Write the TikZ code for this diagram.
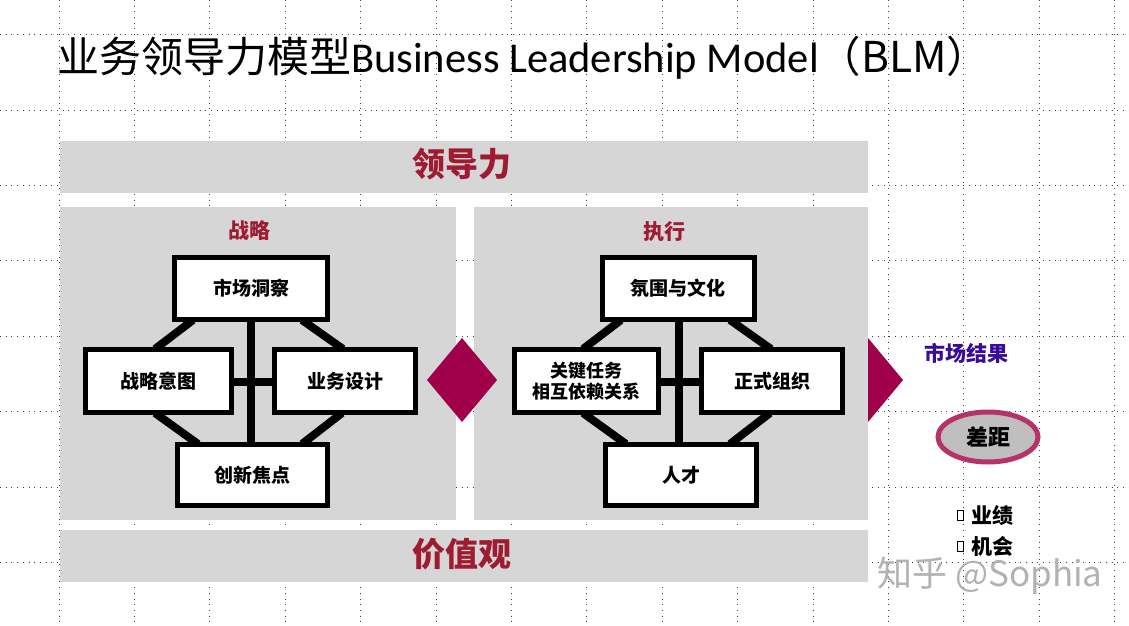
\documentclass[tikz,border=0pt]{standalone}
\usepackage{fontspec}
\usetikzlibrary{shapes.geometric}
\setmainfont{Carlito}
\newfontfamily\cjk{Noto Sans CJK SC}
\definecolor{panel}{HTML}{D6D6D6}
\definecolor{maroon}{HTML}{A0004A}
\definecolor{ttl}{HTML}{9E1B32}
\definecolor{purp}{HTML}{3A0A99}
\definecolor{ring}{HTML}{B8326A}
\tikzset{
  bx/.style={draw=black,line width=5pt,fill=white,inner sep=0pt,font=\cjk\bfseries\fontsize{19}{19}\selectfont},
  link/.style={line width=8pt,black},
  hdr/.style={font=\cjk\bfseries\fontsize{33}{33}\selectfont,text=ttl},
  sub/.style={font=\cjk\bfseries\fontsize{21}{21}\selectfont,text=ttl},
  grid/.style={black!75,line width=0.7pt,dash pattern=on 0.7pt off 5pt},
}
\begin{document}
\begin{tikzpicture}[x=1pt,y=-1pt]
\useasboundingbox (0,0) rectangle (1129,626);
\fill[white] (0,0) rectangle (1129,626);
% dotted grid
\foreach \i in {0,...,14} {\draw[grid] (59+75.4*\i,0) -- (59+75.4*\i,626);}
\foreach \j in {0,...,7} {\draw[grid] (0,34.5+75.4*\j) -- (1129,34.5+75.4*\j);}
% title
\node[anchor=west,inner sep=0pt] (title) at (57,58) {{\cjk\fontsize{42}{42}\selectfont 业务领导力模型}{\fontsize{42.5}{42}\selectfont Business Leadership Model{\cjk （BLM）}}};
% panels
\fill[panel] (60,141) rectangle (868,193);
\node[hdr] (lead) at (462,164) {领导力};
\fill[panel] (60,207) rectangle (456,520);
\fill[panel] (474,207) rectangle (868,520);
\fill[panel] (60,530) rectangle (868,582);
\node[hdr] (val) at (462,554) {价值观};
\node[sub] (zl) at (249,231) {战略};
\node[sub] (zx) at (664,232) {执行};
% left group links
\draw[link] (251,320) -- (251,444);
\draw[link] (232,382) -- (274,382);
\draw[link] (193,320) -- (155,349);
\draw[link] (302,320) -- (343,349);
\draw[link] (155,413) -- (198,444);
\draw[link] (342,413) -- (302,444);
% right group links
\draw[link] (679,320) -- (679,444);
\draw[link] (659,382) -- (701,382);
\draw[link] (621,320) -- (583,349);
\draw[link] (730,320) -- (771,349);
\draw[link] (583,413) -- (626,444);
\draw[link] (770,413) -- (730,444);
% left boxes
\node[bx,minimum width=153pt,minimum height=62pt] (a1) at (251,288) {市场洞察};
\node[bx,minimum width=146pt,minimum height=63pt] (a2) at (158,381) {战略意图};
\node[bx,minimum width=141pt,minimum height=63pt] (a3) at (345,381) {业务设计};
\node[bx,minimum width=150pt,minimum height=61pt] (a4) at (252,475) {创新焦点};
% right boxes
\node[bx,minimum width=152pt,minimum height=62pt] (b1) at (678,288) {氛围与文化};
\node[bx,minimum width=144pt,minimum height=63pt,align=center,font=\cjk\bfseries\fontsize{18}{21}\selectfont] (b2) at (586,381) {关键任务\\相互依赖关系};
\node[bx,minimum width=141pt,minimum height=63pt] (b3) at (772,381) {正式组织};
\node[bx,minimum width=151pt,minimum height=61pt] (b4) at (681,475) {人才};
% diamond and triangle
\fill[maroon] (427,380) -- (462,338) -- (497,380) -- (462,422) -- cycle;
\fill[maroon] (868,338) -- (903,380) -- (868,422) -- cycle;
% right side
\node[font=\cjk\bfseries\fontsize{21}{21}\selectfont,text=purp] (res) at (966,353) {市场结果};
\node[ellipse,draw=ring,line width=5pt,fill=black!25,minimum width=100pt,minimum height=50pt,inner sep=0pt,font=\cjk\bfseries\fontsize{22}{22}\selectfont] (gap) at (988,437) {差距};
\node[anchor=west,inner sep=0pt,font=\cjk\bfseries\fontsize{21}{21}\selectfont] (p1) at (971,515) {业绩};
\node[anchor=west,inner sep=0pt,font=\cjk\bfseries\fontsize{21}{21}\selectfont] (p2) at (971,546) {机会};
\draw[line width=0.8pt] (957,510) rectangle (963,520);
\draw[line width=0.8pt] (957,541) rectangle (963,551);
% watermark
\node[font=\cjk\fontsize{35}{35}\selectfont,text=black!30] (wm) at (990,576) {知乎 @Sophia};
\end{tikzpicture}
\end{document}
